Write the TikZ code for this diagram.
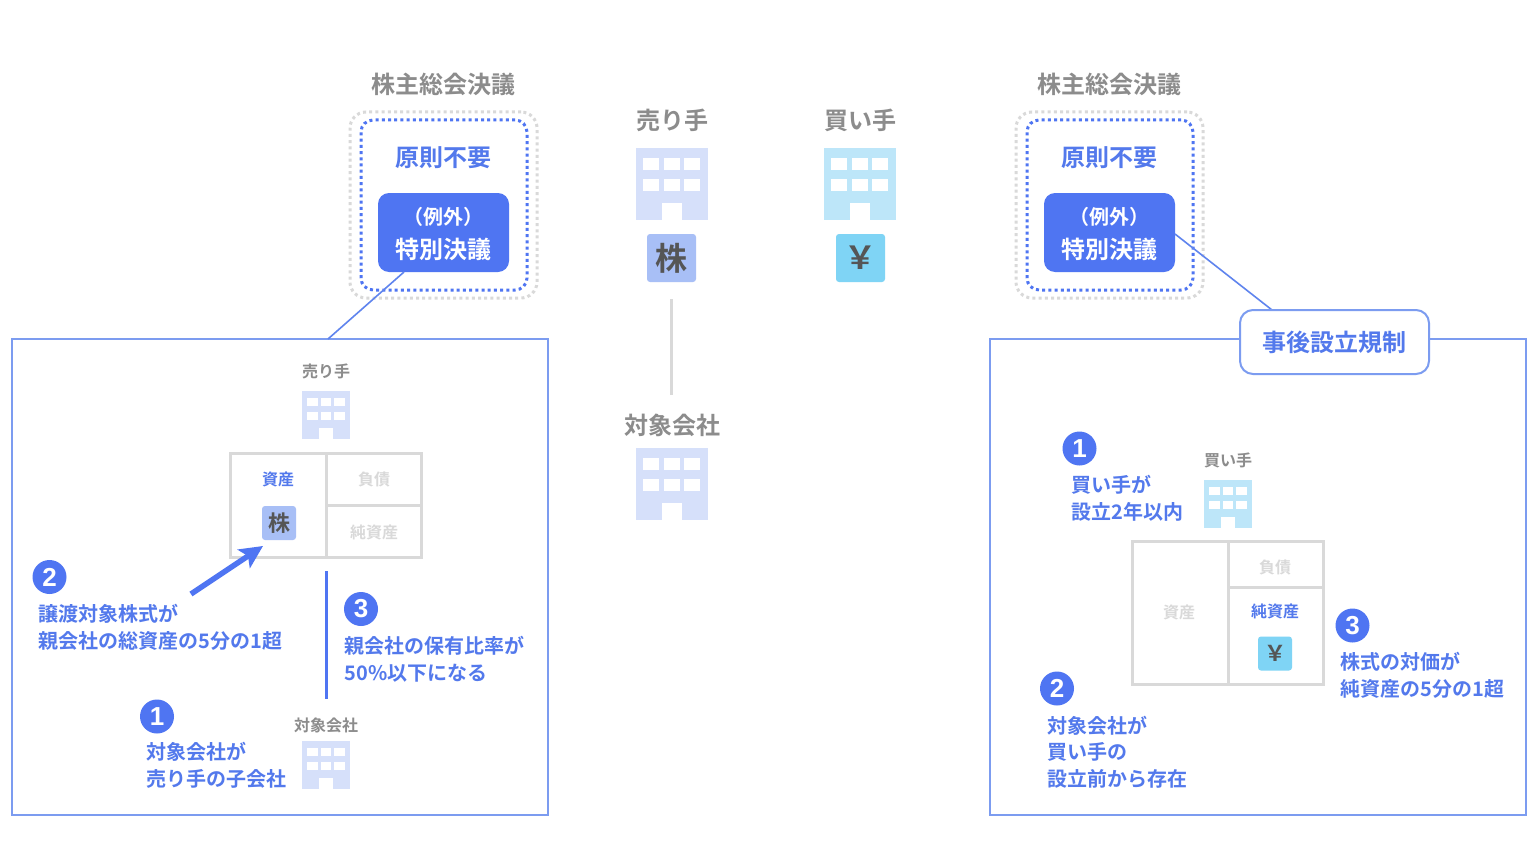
\documentclass[tikz,border=0pt]{standalone}
\usepackage{fontspec}
\setmainfont{Noto Sans CJK JP}[BoldFont={Noto Sans CJK JP Bold}]
\newfontfamily\numfont{Liberation Sans}[BoldFont={Liberation Sans Bold}]
\usetikzlibrary{arrows.meta}
\definecolor{bluemain}{HTML}{4F75F2}
\definecolor{bluetext}{HTML}{5379EC}
\definecolor{frameblue}{HTML}{7C9CF0}
\definecolor{connblue}{HTML}{5F84EE}
\definecolor{graytext}{HTML}{8C8C8C}
\definecolor{lightgray}{HTML}{D9D9D9}
\definecolor{bldgblue}{HTML}{D6E0FA}
\definecolor{bldgcyan}{HTML}{BDE6F9}
\definecolor{kabufill}{HTML}{A8BFF6}
\definecolor{yenfill}{HTML}{7FD4F5}
\definecolor{darktext}{HTML}{555555}
\newcommand{\fs}[2]{\fontsize{#1}{#2}\selectfont\bfseries}
\tikzset{
  x=1pt,y=-1pt,
  txt/.style={inner sep=0pt,outer sep=0pt},
  heading/.style={txt,text=graytext,font=\fs{24}{28}},
  smallhead/.style={txt,text=graytext,font=\fs{16}{18}},
  note/.style={txt,text=bluetext,font=\fs{20}{26.6},align=left,anchor=west},
  bsblue/.style={txt,text=bluetext,font=\fs{16}{18}},
  bsgray/.style={txt,text=lightgray,font=\fs{16}{18}},
  numcirc/.style={circle,fill=bluemain,text=white,inner sep=0pt,minimum size=34pt,font=\numfont\fontsize{26}{26}\selectfont\bfseries},
  outerdots/.style={draw=lightgray,line width=3pt,dash pattern=on 3pt off 3.2pt,rounded corners=16pt},
  innerdots/.style={draw=bluemain,line width=3pt,dash pattern=on 3pt off 3.2pt,rounded corners=12pt},
  framebox/.style={draw=frameblue,line width=2pt},
  thinline/.style={draw=connblue,line width=1.6pt},
  bsline/.style={draw=lightgray,line width=3pt},
  specialbox/.style={fill=bluemain,rounded corners=11pt,inner sep=0pt,minimum width=131pt,minimum height=79pt},
  tokenbox/.style={rounded corners=3pt,inner sep=0pt,outer sep=0pt,text=darktext}
}
% building icon: name, left, top, size, colour
\newcommand{\bldg}[5]{%
  \pgfmathsetmacro{\bs}{#4/72}%
  \node[fill=#5,inner sep=0pt,outer sep=0pt,minimum width=#4pt,minimum height=#4pt] (#1) at ({#2+#4/2},{#3+#4/2}) {};
  \begin{scope}[shift={(#2,#3)},x=\bs pt,y=-\bs pt]
    \foreach \wx in {7.3,27.8,48}{\foreach \wy in {10,31}{
      \fill[white] (\wx,\wy) rectangle ++(16,12);}}
    \fill[white] (26,55) rectangle (46,72);
  \end{scope}}
% resolution block: suffix, horizontal shift
\newcommand{\resolution}[2]{%
  \begin{scope}[shift={(#2,0)}]
    \node[heading] (title#1) at (443.5,84.5) {株主総会決議};
    \node[outerdots,minimum width=187pt,minimum height=186pt,inner sep=0pt] (outer#1) at (443.5,205) {};
    \node[innerdots,minimum width=166pt,minimum height=170pt,inner sep=0pt] (inner#1) at (444,205) {};
    \node[txt,text=bluetext,font=\fs{24}{28}] (rule#1) at (443.5,158) {原則不要};
    \node[specialbox] (special#1) at (443.5,232.5) {};
    \node[txt,text=white,font=\fs{20}{24}] (exc#1) at (443.5,217) {（例外）};
    \node[txt,text=white,font=\fs{24}{28}] (spec#1) at (443.5,249) {特別決議};
  \end{scope}}
\begin{document}
\begin{tikzpicture}
\useasboundingbox (0,0) rectangle (1536,864);
\fill[white] (0,0) rectangle (1536,864);

\resolution{L}{0}
\resolution{R}{666}

% centre
\node[heading] (seller) at (672,120) {売り手};
\bldg{sellerb}{636}{148}{72}{bldgblue}
\node[tokenbox,fill=kabufill,minimum width=49pt,minimum height=48pt,font=\fs{32}{36}] (kabu) at (671.5,258) {株};
\node[heading] (buyer) at (860,120) {買い手};
\bldg{buyerb}{824}{148}{72}{bldgcyan}
\node[tokenbox,fill=yenfill,minimum width=49pt,minimum height=48pt,font=\fs{32}{36}] (yen) at (860.5,258) {￥};
\node[heading] (target) at (672,425) {対象会社};
\bldg{targetb}{636}{448}{72}{bldgblue}
\coordinate (gtop) at (671.7,299);
\coordinate (gbot) at (671.7,395);
\draw[lightgray,line width=3pt] (gtop) -- (gbot);

% left frame
\node[framebox,minimum width=536pt,minimum height=476pt,inner sep=0pt] (frameL) at (280,577) {};
\coordinate (lstart) at (404,272);
\coordinate (lend) at (328,339);
\draw[thinline] (lstart) -- (lend);
\node[smallhead] (lseller) at (326,371) {売り手};
\bldg{lsellerb}{302}{391}{48}{bldgblue}
\node[bsline,minimum width=191pt,minimum height=104pt,inner sep=0pt] (lbs) at (326,505) {};
\coordinate (lv1) at (326,453); \coordinate (lv2) at (326,557);
\coordinate (lh1) at (326,505); \coordinate (lh2) at (421.5,505);
\draw[bsline] (lv1) -- (lv2);
\draw[bsline] (lh1) -- (lh2);
\node[bsblue] (lasset) at (278,479) {資産};
\node[bsgray] (lliab) at (374,479) {負債};
\node[bsgray] (lnet) at (374,532) {純資産};
\node[tokenbox,fill=kabufill,minimum size=34pt,font=\fs{22}{26}] (lkabu) at (279,523) {株};
\coordinate (astart) at (191,594);
\coordinate (aend) at (263,546);
\draw[bluemain,line width=5.5pt,-{Stealth[length=23pt,width=22pt,inset=5pt]}] (astart) -- (aend);
\coordinate (bstart) at (326,571);
\coordinate (bend) at (326,699);
\draw[bluemain,line width=3pt] (bstart) -- (bend);
\node[numcirc] (ln2) at (49.5,577) {2};
\node[note] (lt2) at (38.5,627) {譲渡対象株式が\\親会社の総資産の5分の1超};
\node[numcirc] (ln3) at (361,609) {3};
\node[note] (lt3) at (344.5,659) {親会社の保有比率が\\50\%以下になる};
\node[numcirc] (ln1) at (157,716.5) {1};
\node[note] (lt1) at (146.5,765) {対象会社が\\売り手の子会社};
\node[smallhead] (ltarget) at (326,725.5) {対象会社};
\bldg{ltargetb}{302}{741}{48}{bldgblue}

% right frame
\node[framebox,minimum width=536pt,minimum height=476pt,inner sep=0pt] (frameR) at (1258,577) {};
\coordinate (rstart) at (1175,234);
\coordinate (rend) at (1272,310);
\draw[thinline] (rstart) -- (rend);
\node[draw=frameblue,line width=2pt,fill=white,rounded corners=13pt,minimum width=189pt,minimum height=64pt,inner sep=0pt,text=bluetext,font=\fs{24}{28}] (post) at (1334.5,342) {事後設立規制};
\node[numcirc] (rn1) at (1079.5,448.5) {1};
\node[note] (rt1) at (1071.5,498) {買い手が\\設立2年以内};
\node[smallhead] (rbuyer) at (1228,460.5) {買い手};
\bldg{rbuyerb}{1204}{480}{48}{bldgcyan}
\node[bsline,minimum width=191pt,minimum height=143pt,inner sep=0pt] (rbs) at (1228,612.5) {};
\coordinate (rv1) at (1228,541); \coordinate (rv2) at (1228,684);
\coordinate (rh1) at (1228,587); \coordinate (rh2) at (1323.5,587);
\draw[bsline] (rv1) -- (rv2);
\draw[bsline] (rh1) -- (rh2);
\node[bsgray] (rliab) at (1275,567.5) {負債};
\node[bsgray] (rasset) at (1179,612) {資産};
\node[bsblue] (rnet) at (1275,611.5) {純資産};
\node[tokenbox,fill=yenfill,minimum size=34pt,font=\fs{22}{26}] (ryen) at (1275,653.5) {￥};
\node[numcirc] (rn3) at (1352.5,625.5) {3};
\node[note] (rt3) at (1340.5,675) {株式の対価が\\純資産の5分の1超};
\node[numcirc] (rn2) at (1057,688.5) {2};
\node[note] (rt2) at (1047.5,752) {対象会社が\\買い手の\\設立前から存在};
\end{tikzpicture}
\end{document}
